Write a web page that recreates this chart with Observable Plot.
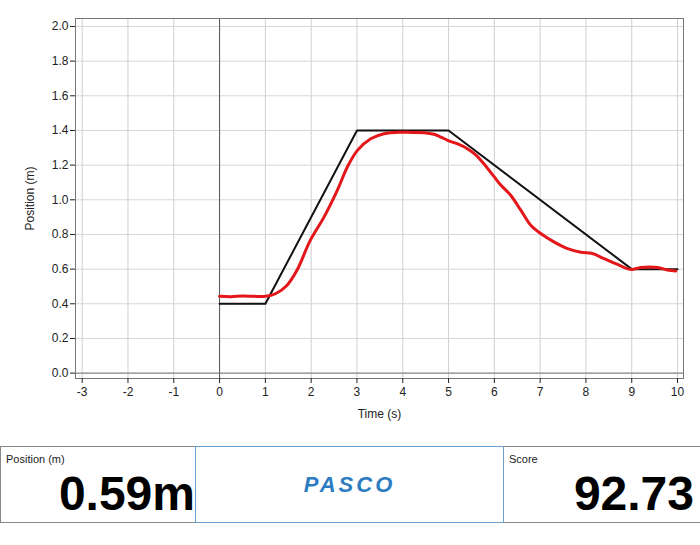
<!DOCTYPE html>
<html>
<head>
<meta charset="utf-8">
<script src="https://cdn.jsdelivr.net/npm/d3@7"></script>
<script src="https://cdn.jsdelivr.net/npm/@observablehq/plot@0.6"></script>
<style>
  html, body { margin: 0; padding: 0; background: #fff; }
  body { width: 700px; height: 545px; position: relative; overflow: hidden; font-family: "Liberation Sans", Arial, sans-serif; }
  #chart { position: absolute; left: 0; top: 0; }
  .panel { position: absolute; top: 446px; height: 77px; box-sizing: border-box; background: #fff; }
  .lbl { position: absolute; left: 5px; top: 6px; font-size: 11px; color: #222; }
  .val { position: absolute; right: 0px; top: 19px; font-size: 48px; font-weight: bold; color: #000; }
  .logo { position: absolute; left: 0; right: 0; top: 25px; text-align: center; font-size: 22px; font-weight: 900; font-style: italic; color: #2d7cc1; letter-spacing: 3px; font-family: "Liberation Sans", Arial, sans-serif; }
</style>
</head>
<body>
<div id="chart"></div>
<div class="panel" style="left:0; width:196px; border:1px solid #888; border-right:none;">
  <div class="lbl" id="lblPos"></div>
  <div class="val" id="valPos" style="right:1px"></div>
</div>
<div class="panel" style="left:195px; width:309px; border:1px solid #6a9fd0;">
  <div class="logo" id="logo"></div>
</div>
<div class="panel" style="left:503px; width:197px; border:1px solid #888; border-left:1px solid #6a9fd0; border-right:none;">
  <div class="lbl" id="lblScore"></div>
  <div class="val" id="valScore" style="right:6px"></div>
</div>
<script>
// Target (black) path
const targetT = [0, 1, 3, 5, 9, 10];
const targetY = [0.4, 0.4, 1.4, 1.4, 0.6, 0.6];

// Measured (red) position
const redT = [0, 0.25, 0.5, 0.75, 1.0, 1.22, 1.47, 1.69, 1.98, 2.28, 2.57, 2.79, 3.01, 3.30, 3.59, 3.96, 4.20, 4.47, 4.68, 4.83, 4.98, 5.20, 5.41, 5.60, 5.77, 5.99, 6.14, 6.36, 6.58, 6.80, 7.02, 7.31, 7.60, 7.89, 8.14, 8.40, 8.69, 8.98, 9.20, 9.56, 9.78, 9.96];
const redY = [0.443, 0.441, 0.445, 0.443, 0.443, 0.458, 0.506, 0.593, 0.766, 0.900, 1.054, 1.189, 1.285, 1.352, 1.381, 1.390, 1.389, 1.387, 1.378, 1.362, 1.343, 1.322, 1.295, 1.258, 1.208, 1.135, 1.085, 1.025, 0.939, 0.852, 0.804, 0.756, 0.718, 0.697, 0.690, 0.660, 0.627, 0.598, 0.610, 0.610, 0.595, 0.589];

const xTicks = [-3, -2, -1, 0, 1, 2, 3, 4, 5, 6, 7, 8, 9, 10];
const yTicks = [0.0, 0.2, 0.4, 0.6, 0.8, 1.0, 1.2, 1.4, 1.6, 1.8, 2.0];

const xLabel = "Time (s)";
const yLabel = "Position (m)";
const posLabel = "Position (m)";
const posValue = "0.59m";
const scoreLabel = "Score";
const scoreValue = "92.73";
const logoText = "PASCO";

const target = targetT.map((t, i) => ({t, y: targetY[i]}));
const red = redT.map((t, i) => ({t, y: redY[i]}));

const chart = Plot.plot({
  width: 700,
  height: 440,
  marginLeft: 75,
  marginRight: 17,
  marginTop: 18,
  marginBottom: 62,
  style: {fontFamily: "'Liberation Sans', Arial, sans-serif", fontSize: "12px", color: "#222", background: "#fff"},
  x: {domain: [-3.146, 10.13]},
  y: {domain: [-0.031, 2.046]},
  marks: [
    Plot.gridX(xTicks, {stroke: "#cfcfcf", strokeOpacity: 1}),
    Plot.gridY(yTicks, {stroke: "#d6d6d6", strokeOpacity: 1}),
    Plot.ruleX([0], {stroke: "#555", strokeWidth: 1}),
    Plot.ruleY([0], {stroke: "#777", strokeWidth: 1}),
    Plot.frame({stroke: "#777"}),
    Plot.axisX(xTicks, {tickSize: 5, tickPadding: 4, fontSize: 12, label: xLabel, labelAnchor: "center", labelArrow: "none", labelOffset: 39, tickFormat: d => String(d)}),
    Plot.axisY(yTicks, {tickSize: 5, tickPadding: 2, fontSize: 12, label: yLabel, labelAnchor: "center", labelArrow: "none", labelOffset: 50, tickFormat: d3.format(".1f")}),
    Plot.line(target, {x: "t", y: "y", stroke: "#111", strokeWidth: 2}),
    Plot.line(red, {x: "t", y: "y", stroke: "#e5161a", strokeWidth: 3, curve: "catmull-rom"})
  ]
});
document.getElementById("chart").appendChild(chart);
document.getElementById("lblPos").textContent = posLabel;
document.getElementById("valPos").textContent = posValue;
document.getElementById("lblScore").textContent = scoreLabel;
document.getElementById("valScore").textContent = scoreValue;
document.getElementById("logo").textContent = logoText;
</script>
</body>
</html>
